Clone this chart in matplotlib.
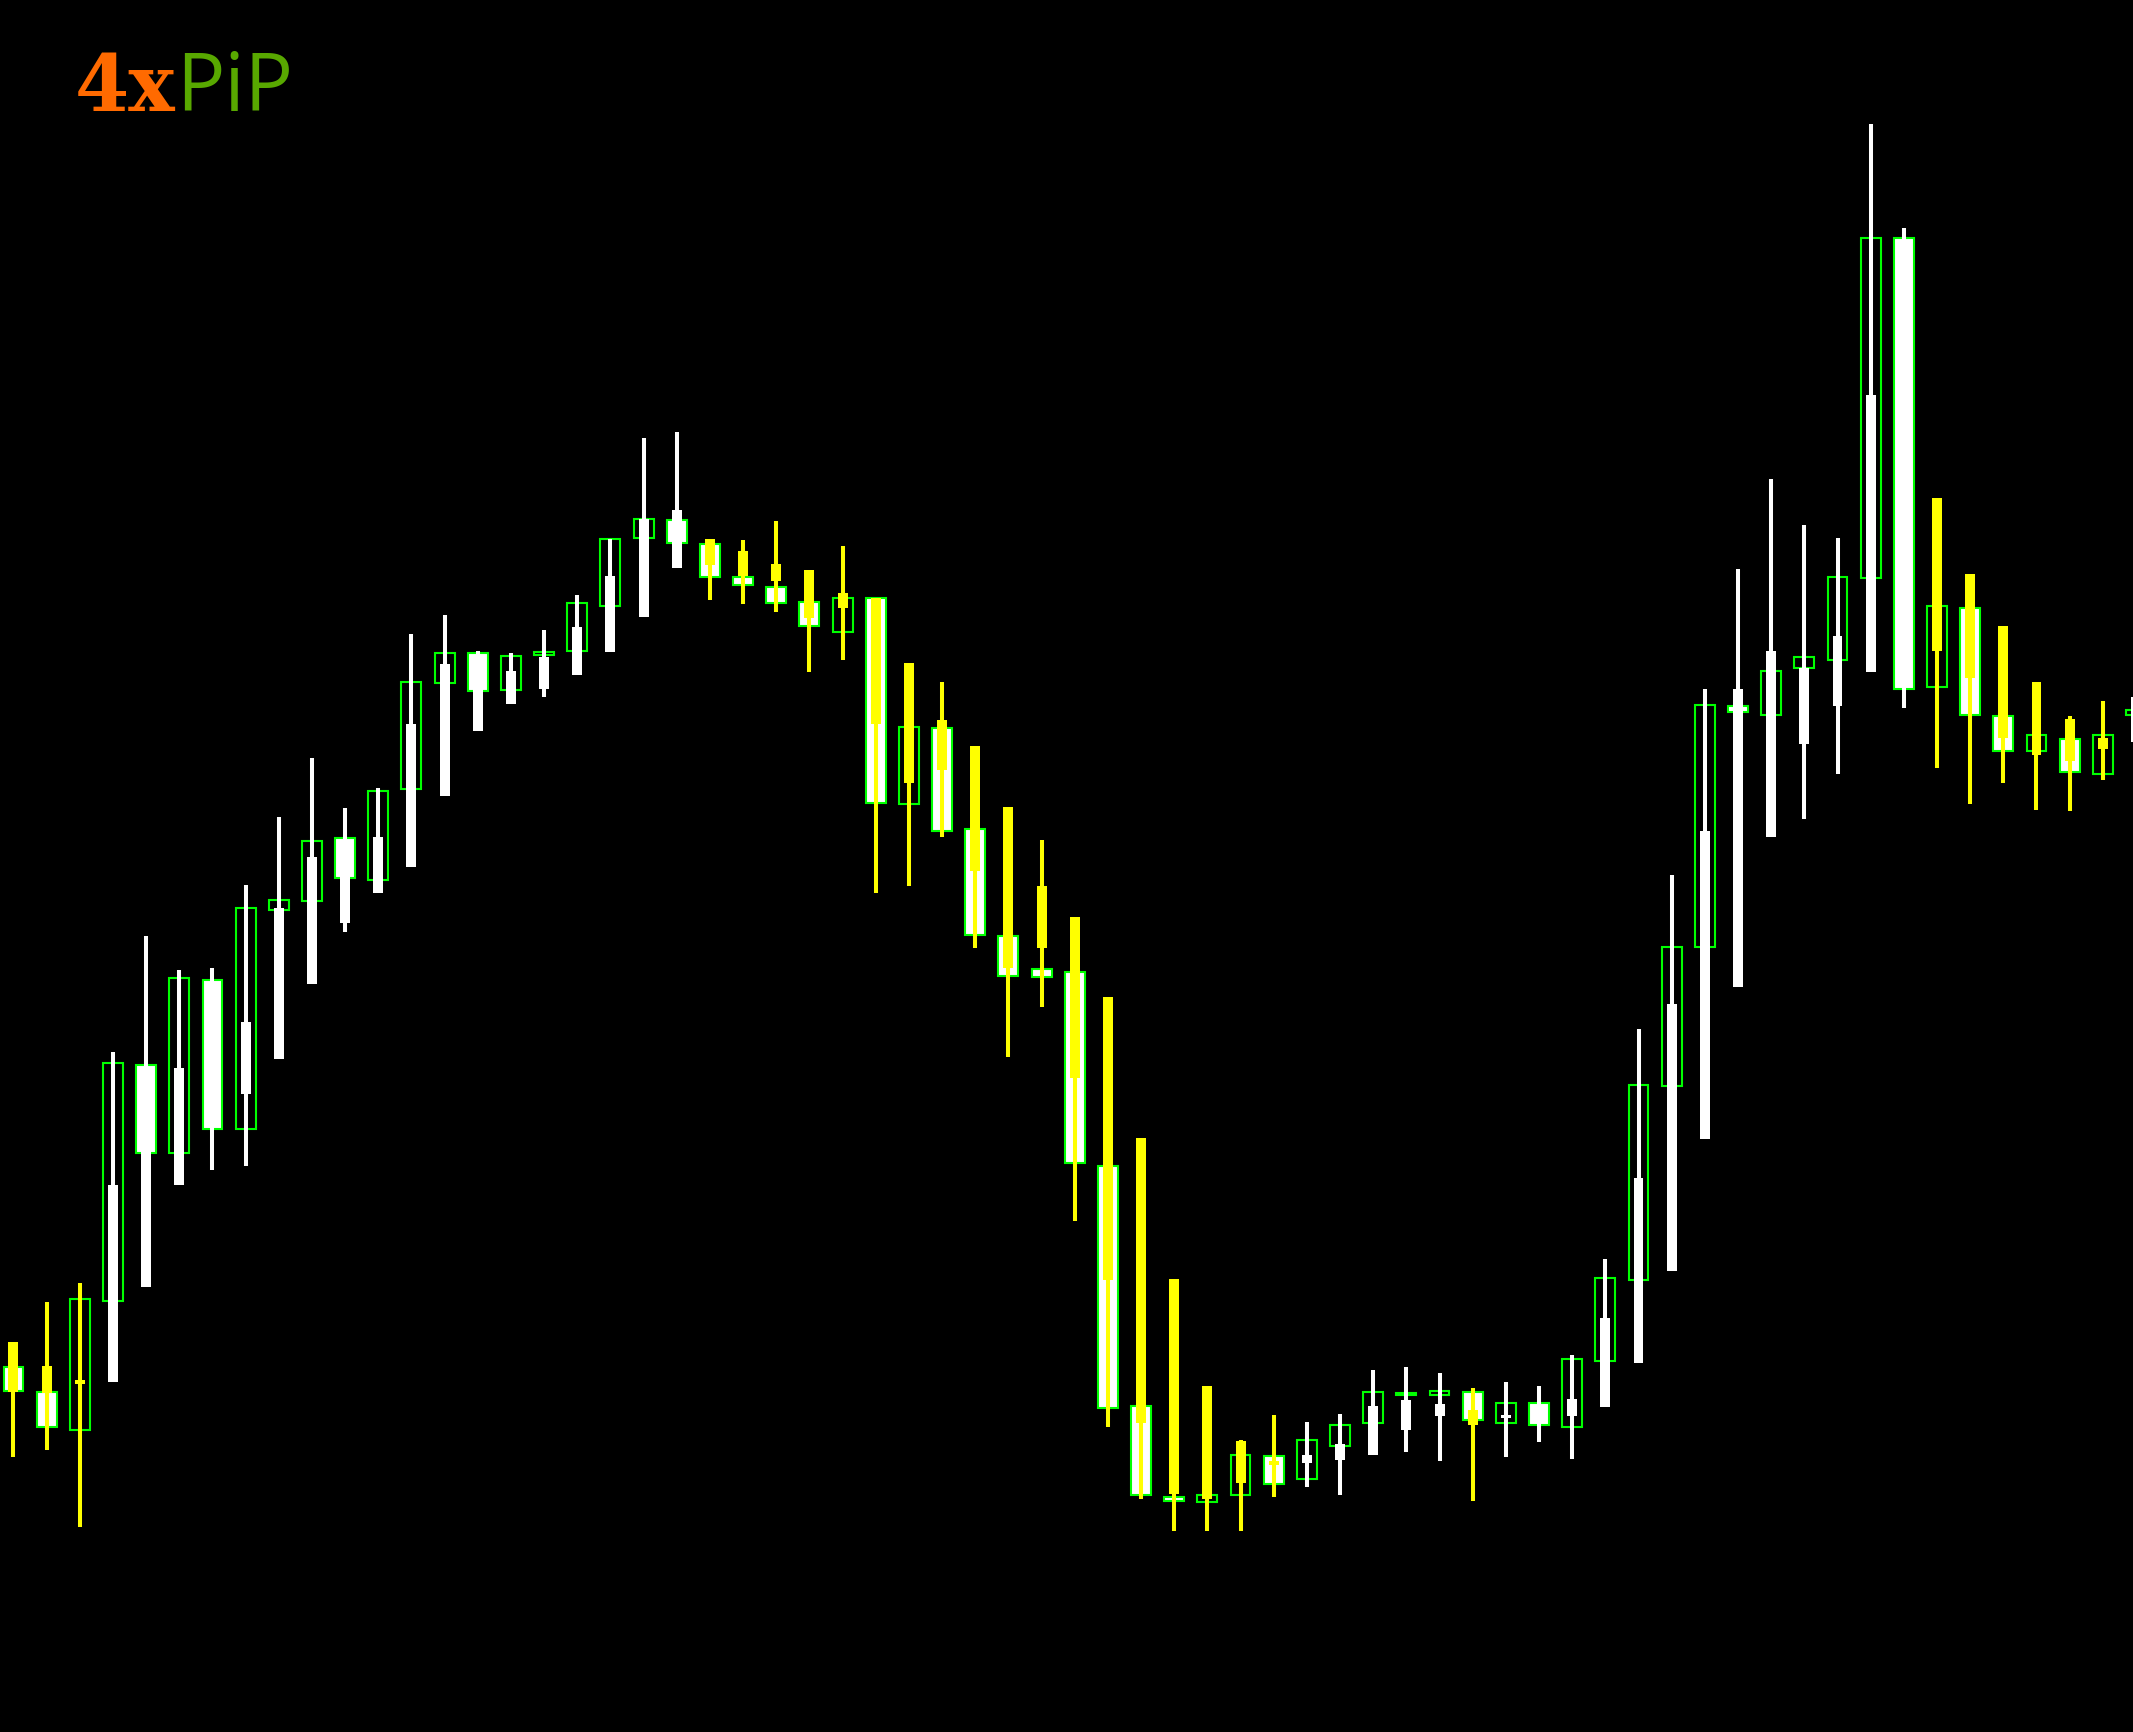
import numpy as np
import matplotlib
matplotlib.use("Agg")
import matplotlib.pyplot as plt

# --- Chart candles (open / close of the broker bars, shown as green boxes) ---
bar_open = [268, 250, 222, 317, 490, 426, 553, 443, 604, 611,
            657, 626, 693, 771, 793, 766, 792, 795, 828, 878,
            891, 873, 849, 842, 831, 809, 834, 682, 738, 664,
            585, 561, 559, 416, 240, 173, 169, 174, 203, 186,
            210, 227, 248, 248, 250, 227, 242, 224, 273, 332,
            475, 577, 754, 748, 782, 788, 848, 1098, 768, 826,
            747, 721, 730, 704, 748]
bar_close = [251, 224, 318, 492, 426, 554, 443, 606, 612, 655,
             628, 692, 772, 793, 765, 791, 794, 830, 877, 892,
             874, 849, 843, 830, 813, 834, 683, 739, 662, 586,
             556, 555, 418, 238, 174, 170, 174, 204, 182, 215,
             226, 250, 249, 251, 229, 242, 226, 274, 334, 476,
             577, 755, 750, 780, 790, 849, 1098, 767, 828, 748,
             721, 733, 706, 733, 751]

# --- Smoothed candles (narrow bodies, white = up, yellow = down) ---
ha_open = [287, 269, 259, 257, 327, 402, 446, 469, 495, 550,
           595, 617, 636, 688, 736, 756, 767, 777, 794, 820,
           856, 877, 868, 859, 854, 837, 834, 786, 744, 725,
           680, 622, 599, 540, 437, 333, 254, 214, 199, 198,
           200, 204, 222, 232, 237, 231, 228, 232, 239, 271,
           339, 436, 548, 658, 726, 754, 779, 769, 907, 851,
           813, 772, 745, 731, 728]
ha_close = [250, 249, 256, 402, 484, 488, 549, 522, 606, 643,
            649, 658, 741, 785, 789, 780, 790, 812, 850, 892,
            898, 858, 850, 846, 819, 826, 741, 698, 707, 633,
            562, 576, 481, 332, 227, 175, 171, 183, 196, 204,
            212, 240, 244, 241, 226, 233, 240, 245, 304, 407,
            535, 662, 767, 795, 782, 806, 983, 1094, 795, 775,
            731, 718, 714, 723, 761]
ha_high = [287, 316, 330, 500, 585, 560, 562, 623, 673, 716,
           679, 694, 807, 821, 795, 793, 810, 836, 877, 951,
           956, 877, 876, 890, 854, 872, 834, 786, 772, 725,
           680, 656, 599, 540, 437, 333, 254, 215, 233, 228,
           234, 266, 268, 264, 253, 257, 254, 277, 348, 517,
           630, 767, 855, 921, 887, 878, 1182, 1106, 907, 851,
           813, 772, 747, 758, 767]
ha_low = [202, 207, 151, 257, 327, 402, 413, 416, 495, 550,
          588, 617, 636, 688, 736, 756, 761, 777, 794, 820,
          856, 832, 829, 823, 779, 788, 617, 622, 658, 576,
          496, 533, 376, 224, 171, 148, 148, 148, 173, 180,
          174, 204, 206, 199, 170, 202, 213, 201, 239, 271,
          339, 436, 548, 658, 671, 704, 779, 753, 709, 682,
          698, 678, 677, 700, 728]

bar_open = np.array(bar_open)
bar_close = np.array(bar_close)
ha_open = np.array(ha_open)
ha_close = np.array(ha_close)
ha_high = np.array(ha_high)
ha_low = np.array(ha_low)
x = np.arange(len(bar_open))

# --- Figure ---
fig = plt.figure(figsize=(21.33, 17.33), dpi=100, facecolor='black')
ax = fig.add_axes([0, 0, 1, 1])
ax.set_facecolor('black')

# broker bars: white fill when bearish, black when bullish, green outline
box_fill = np.where(bar_close < bar_open, 'white', 'black')
ax.bar(x, bar_close - bar_open, bottom=bar_open, width=0.60,
       color=box_fill, edgecolor='#00ff00', linewidth=1.5, zorder=1)

# smoothed candles on top
ha_col = np.where(ha_close >= ha_open, '#ffffff', '#ffff00')
ax.vlines(x, ha_low, ha_high, colors=ha_col, linewidth=2.9, zorder=2)
ax.bar(x, ha_close - ha_open, bottom=ha_open, width=0.30,
       color=ha_col, linewidth=0, zorder=3)

ax.set_xlim(-0.406, 63.91)
ax.set_ylim(0, 1274)
ax.axis('off')

# logo
fig.text(75 / 2133, 1 - 111 / 1733, '4x', color='#ff6a00', fontsize=56,
         fontweight='bold', family='DejaVu Serif', va='baseline', ha='left')
fig.text(176 / 2133, 1 - 111 / 1733, 'PiP', color='#58a800', fontsize=58,
         fontweight='normal', family='Open Sans', va='baseline', ha='left')

fig.savefig('out.png', dpi=100, facecolor='black')
